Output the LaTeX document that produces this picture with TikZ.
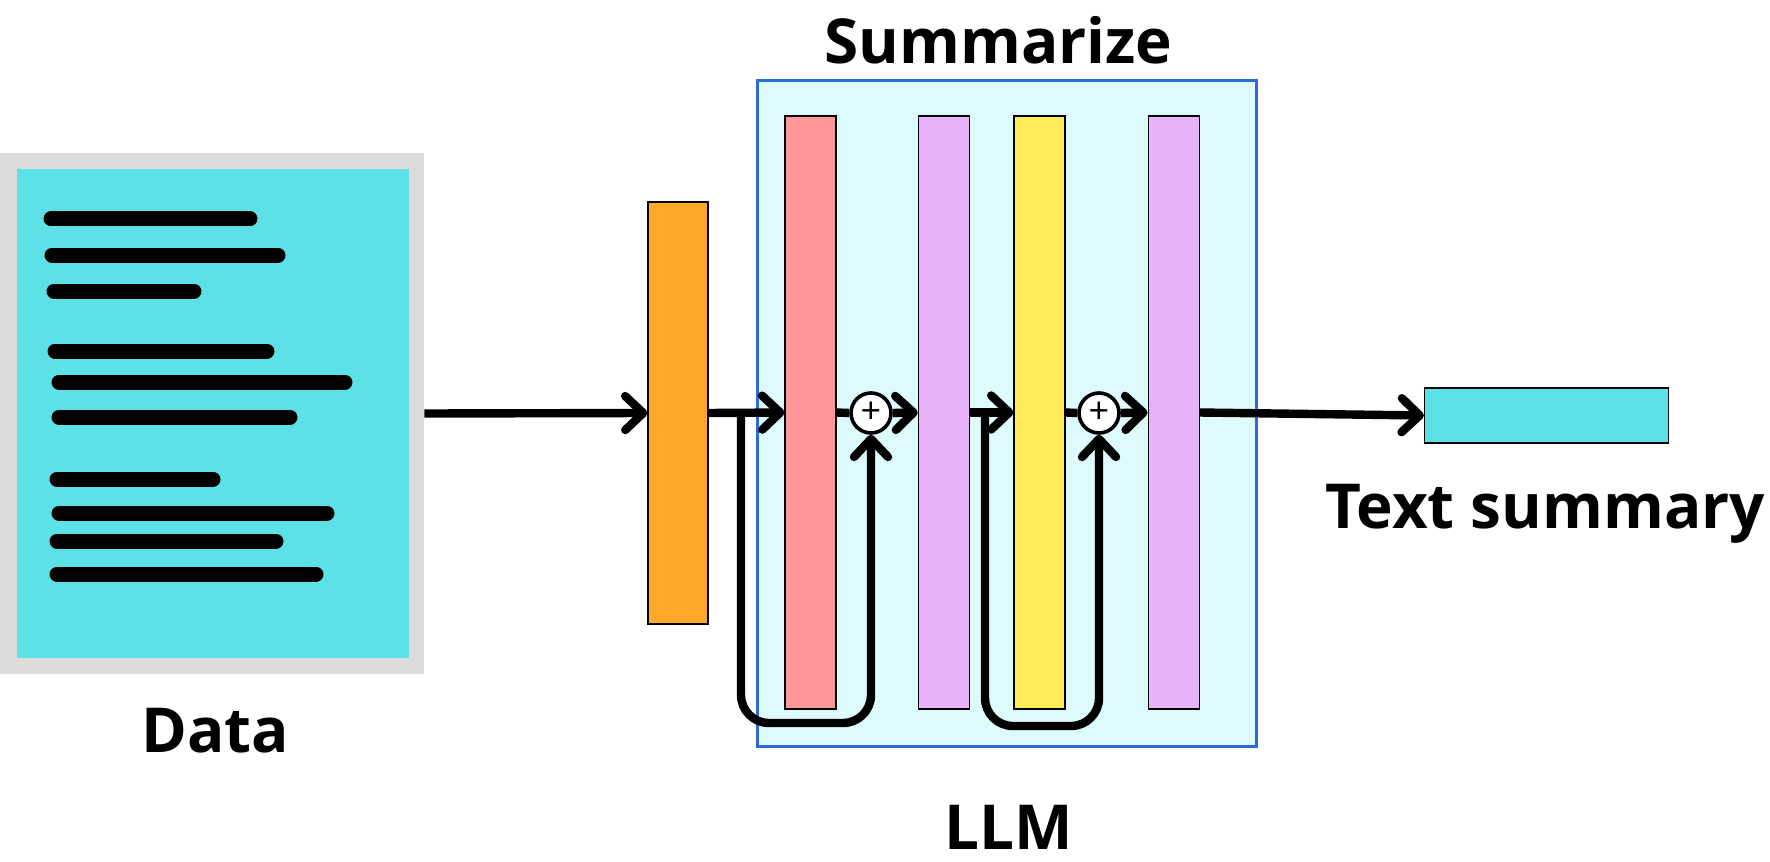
\documentclass[tikz,border=0pt]{standalone}
\usepackage{fontspec}
\setmainfont{Open Sans}
\usetikzlibrary{arrows.meta}
\definecolor{framegray}{HTML}{DCDCDC}
\definecolor{doccyan}{HTML}{5CE1E6}
\definecolor{embor}{HTML}{FFA729}
\definecolor{pinkbar}{HTML}{FE9797}
\definecolor{purplebar}{HTML}{E9B2FA}
\definecolor{yellowbar}{HTML}{FFEB5A}
\definecolor{llmfill}{HTML}{DDFBFD}
\definecolor{llmborder}{HTML}{2E6BD6}
\tikzset{
  bar/.style={draw=black, line width=0.6pt, minimum width=25.5pt, minimum height=296.5pt, inner sep=0pt},
  docline/.style={line width=7.5pt, line cap=round},
  arr/.style={line width=4.2pt, -{Straight Barb[length=9pt,width=17pt,round]}},
  link/.style={line width=4.2pt},
  plusnode/.style={circle, draw=black, fill=white, line width=1.8pt, minimum size=20pt, inner sep=0pt, font=\fontsize{18}{18}\selectfont},
  label/.style={font=\bfseries\fontsize{31}{31}\selectfont, anchor=base, inner sep=0pt}
}
\begin{document}
\begin{tikzpicture}[x=0.5pt,y=-0.5pt]
\useasboundingbox (0,0) rectangle (1770,861);
% document
\node[fill=framegray, minimum width=212pt, minimum height=260.5pt, inner sep=0pt] (frame) at (212,413.5) {};
\node[fill=doccyan, minimum width=196pt, minimum height=244.7pt, inner sep=0pt] (doc) at (213,413.3) {};
\foreach \xa/\xb/\yy in {51/250/219, 52/278/255, 54/194/291, 55/267/351, 59/345/382, 59/290/417, 57/213/479, 59/327/513, 57/276/541, 57/316/574}
  \draw[docline] (\xa,\yy) -- (\xb,\yy);
\node[label] (data) at (215.5,752) {Data};
% LLM box
\node[fill=llmfill, draw=llmborder, line width=1.5pt, minimum width=249.5pt, minimum height=333pt, inner sep=0pt] (llm) at (1006.5,413.8) {};
\node[label] (summ) at (998.5,64) {Summarize};
\node[label] (llmlabel) at (1009,849) {LLM};
% bars
\node[draw=black, line width=0.6pt, fill=embor, minimum width=30pt, minimum height=211pt, inner sep=0pt] (emb) at (678,413) {};
\node[bar, fill=pinkbar] (pink) at (810.5,412.5) {};
\node[bar, fill=purplebar] (p1) at (943.8,412.5) {};
\node[bar, fill=yellowbar] (yel) at (1039.5,412.5) {};
\node[bar, fill=purplebar] (p2) at (1173.6,412.5) {};
% adders
\node[plusnode] (c1) at (871,413) {+};
\node[plusnode] (c2) at (1099,413) {+};
% output
\node[draw=black, line width=0.6pt, fill=doccyan, minimum width=122pt, minimum height=27.5pt, inner sep=0pt] (sum) at (1546.5,415.5) {};
\node[label] (sumlabel) at (1545,528) {Text summary};
% branch points
\coordinate (b1) at (741,413);
\coordinate (b2) at (985,413);
% skip connections
\draw[arr, rounded corners=14pt] (b1) -- (741,723) -- (c1.south |- 0,723) -- (c1.south);
\draw[arr, rounded corners=14pt] (b2) -- (985,726) -- (c2.south |- 0,726) -- (c2.south);
% main flow
\draw[arr] (frame.east) -- (emb.west);
\draw[arr] (emb.east) -- (pink.west);
\draw[link] (pink.east) -- (c1.west);
\draw[arr] (c1.east) -- (p1.west);
\draw[arr] (p1.east) -- (yel.west);
\draw[link] (yel.east) -- (c2.west);
\draw[arr] (c2.east) -- (p2.west);
\draw[arr] (p2.east) -- (sum.west);
\end{tikzpicture}
\end{document}
